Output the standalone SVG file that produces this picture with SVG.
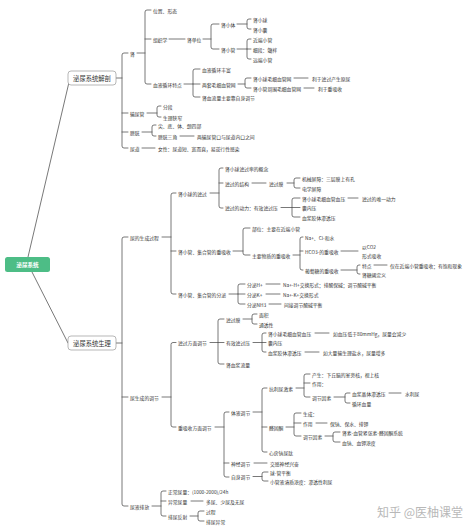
<svg xmlns="http://www.w3.org/2000/svg" width="474" height="530" viewBox="0 0 474 530">
<style>
.t{font-family:"Noto Sans CJK SC","Noto Sans",sans-serif;font-size:4.8px;fill:#333;dominant-baseline:central}
.c{fill:none;stroke:#555;stroke-width:0.8;stroke-linecap:round}
.main{font-family:"Noto Sans CJK SC","Noto Sans",sans-serif;font-size:6.3px;fill:#333;text-anchor:middle;dominant-baseline:central}
.box{fill:#fff;stroke:#999;stroke-width:0.7}
</style>
<rect width="474" height="530" fill="#fff"/>
<g id="connectors" class="c">
<path d="M28,257L70,78M32,272L68,343"/>
<path d="M116,78H122M128,53H124Q122,53 122,55V146Q122,148 124,148H128M122,113H128M122,132H128"/>
<path d="M137,53H145M151,10H147Q145,10 145,12V82Q145,84 147,84H151M145,39H151"/>
<path d="M169,39H185"/>
<path d="M203,39H211M219,24H213Q211,24 211,26V47Q211,49 213,49H219"/>
<path d="M237,24H247M251,19H249Q247,19 247,21V27Q247,29 249,29H251"/>
<path d="M237,49H247M251,39H249Q247,39 247,41V57Q247,59 249,59H251M247,49H251"/>
<path d="M184,84H193M200,69H195Q193,69 193,71V95Q193,97 195,97H200M193,84H200"/>
<path d="M238,84H245M251,78H247Q245,78 245,80V86Q245,88 247,88H251"/>
<path d="M294,78H308M304,88H314"/>
<path d="M147,113H157M161,106H159Q157,106 157,108V115Q157,117 159,117H161"/>
<path d="M142,132H152M156,125H154Q152,125 152,127V134Q152,136 154,136H156"/>
<path d="M180,136H194M142,148H155"/>
<path d="M116,343H122M128,237H124Q122,237 122,239V504Q122,506 124,506H128M122,397H128"/>
<path d="M162,237H171M176,193H173Q171,193 171,195V292Q171,294 173,294H176M171,251H176"/>
<path d="M210,193H219M223,168H221Q219,168 219,170V206Q219,208 221,208H223M219,183H223"/>
<path d="M252,183H266"/>
<path d="M287,183H294M300,178H296Q294,178 294,180V186Q294,188 296,188H300"/>
<path d="M281,207.5H292M300,198H294Q292,198 292,200V215Q292,217 294,217H300M292,207.5H300"/>
<path d="M348,198H358"/>
<path d="M233,251H243M250,228H245Q243,228 243,230V253Q243,255 245,255H250"/>
<path d="M293,255H300M303,237H302Q300,237 300,239V268Q300,270 302,270H303M300,251H303"/>
<path d="M341,251H358"/>
<path d="M341,270H357M360,265H359Q357,265 357,267V272Q357,274 359,274H360"/>
<path d="M374,265H387"/>
<path d="M229,294H238M245,284H240Q238,284 238,286V302Q238,304 240,304H245M238,294H245"/>
<path d="M266,284H280M266,294H280M269,304H281"/>
<path d="M162,397H171M176,342.5H173Q171,342.5 171,344.5V425Q171,427 173,427H176"/>
<path d="M210,342.5H218M224,319H220Q218,319 218,321V362Q218,364 220,364H224M218,342.5H224"/>
<path d="M243,319H252M257,314H254Q252,314 252,316V322Q252,324 254,324H257"/>
<path d="M253,342.5H262M266,333H264Q262,333 262,335V350Q262,352 264,352H266M262,342.5H266"/>
<path d="M315,333H329M305,352H319"/>
<path d="M215,427H224M229,412H226Q224,412 224,414V475Q224,477 226,477H229M224,463H229"/>
<path d="M253,412H262M267,388H264Q262,388 262,390V450Q262,452 264,452H267M262,427H267"/>
<path d="M296,388H304M310,374H306Q304,374 304,376V395Q304,397 306,397H310M304,383H310"/>
<path d="M334,397H345M350,393H347Q345,393 345,395V401Q345,403 347,403H350"/>
<path d="M389,393H401"/>
<path d="M286,427H294M301,413H296Q294,413 294,415V434Q294,436 296,436H301M294,423H301"/>
<path d="M316,423H327"/>
<path d="M325,436H333M340,432H335Q333,432 333,434V440Q333,442 335,442H340"/>
<path d="M254,463H267"/>
<path d="M253,476.5H262M268,472H264Q262,472 262,474V479Q262,481 264,481H268"/>
<path d="M152,506H161M166,491H163Q161,491 161,493V514Q161,516 163,516H166M161,501H166"/>
<path d="M191,501H203"/>
<path d="M190,516H198M204,511H200Q198,511 198,513V519Q198,521 200,521H204"/>
</g>
<g id="root"><rect x="5" y="257" width="45" height="15" rx="2.5" fill="#4dbd86"/><text x="27.5" y="264.5" class="main" style="fill:#fff;font-weight:bold;font-size:5.6px">泌尿系统</text></g>
<g id="anatomy"><rect x="68" y="71" width="48" height="14" rx="3" class="box"/><text x="92" y="78" class="main">泌尿系统解剖</text></g>
<g id="physiology"><rect x="68" y="336" width="48" height="14" rx="3" class="box"/><text x="92" y="343" class="main">泌尿系统生理</text></g>
<g id="n-shen"><text x="130" y="53" class="t">肾</text></g>
<g id="n-weizhi"><text x="153" y="10" class="t">位置、形态</text></g>
<g id="n-zuzhi"><text x="153" y="39" class="t">组织学</text></g>
<g id="n-shendanwei"><text x="187" y="39" class="t">肾单位</text></g>
<g id="n-shenxiaoti"><text x="221" y="24" class="t">肾小体</text></g>
<g id="n-shenxiaoqiu"><text x="253" y="19" class="t">肾小球</text></g>
<g id="n-shenxiaonang"><text x="253" y="29" class="t">肾小囊</text></g>
<g id="n-shenxiaoguan"><text x="221" y="49" class="t">肾小管</text></g>
<g id="n-jinduan"><text x="253" y="39" class="t">近端小管</text></g>
<g id="n-xiduan"><text x="253" y="49" class="t">细段：髓袢</text></g>
<g id="n-yuanduan"><text x="253" y="59" class="t">远端小管</text></g>
<g id="n-xueye"><text x="153" y="84" class="t">血液循环特点</text></g>
<g id="n-fengfu"><text x="202" y="69" class="t">血液循环丰富</text></g>
<g id="n-liangtao"><text x="202" y="84" class="t">两套毛细血管网</text></g>
<g id="n-qiuwang"><text x="253" y="78" class="t">肾小球毛细血管网</text></g>
<g id="n-lvguo"><text x="312" y="78" class="t">利于滤过产生原尿</text></g>
<g id="n-guanwang"><text x="253" y="88" class="t">肾小管周围毛细血管网</text></g>
<g id="n-chongxi"><text x="318" y="88" class="t">利于重吸收</text></g>
<g id="n-xueliuliang"><text x="202" y="97" class="t">肾血流量主要靠自身调节</text></g>
<g id="n-shuniaoguan"><text x="130" y="113" class="t">输尿管</text></g>
<g id="n-fenduan"><text x="163" y="106" class="t">分段</text></g>
<g id="n-xiazhai"><text x="163" y="117" class="t">生理狭窄</text></g>
<g id="n-pangguang"><text x="130" y="132" class="t">膀胱</text></g>
<g id="n-sibu"><text x="158" y="125" class="t">尖、底、体、颈四部</text></g>
<g id="n-sanjiao"><text x="158" y="136" class="t">膀胱三角</text></g>
<g id="n-sanjiao2"><text x="197" y="136" class="t">两输尿管口与尿道内口之间</text></g>
<g id="n-niaodao"><text x="130" y="148" class="t">尿道</text></g>
<g id="n-nvxing"><text x="158" y="148" class="t">女性：尿道短、宽而直，易逆行性感染</text></g>
<g id="n-shengcheng"><text x="130" y="237" class="t">尿的生成过程</text></g>
<g id="n-qiulvguo"><text x="178" y="193" class="t">肾小球的滤过</text></g>
<g id="n-lvguolv"><text x="225" y="168" class="t">肾小球滤过率的概念</text></g>
<g id="n-jiegou"><text x="225" y="183" class="t">滤过的结构</text></g>
<g id="n-lvguomo"><text x="269" y="183" class="t">滤过膜</text></g>
<g id="n-jixie"><text x="302" y="178" class="t">机械屏障：三层膜上有孔</text></g>
<g id="n-dianxue"><text x="302" y="188" class="t">电学屏障</text></g>
<g id="n-dongli"><text x="225" y="207.5" class="t">滤过的动力：有效滤过压</text></g>
<g id="n-xueya"><text x="302" y="198" class="t">肾小球毛细血管血压</text></g>
<g id="n-weiyi"><text x="362" y="198" class="t">滤过的唯一动力</text></g>
<g id="n-nangneiya"><text x="302" y="207.5" class="t">囊内压</text></g>
<g id="n-jiaoti"><text x="302" y="217" class="t">血浆胶体渗透压</text></g>
<g id="n-chongxishou"><text x="178" y="251" class="t">肾小管、集合管的重吸收</text></g>
<g id="n-buwei"><text x="252" y="228" class="t">部位：主要在近端小管</text></g>
<g id="n-wuzhi"><text x="252" y="255" class="t">主要物质的重吸收</text></g>
<g id="n-na"><text x="305" y="237" class="t">Na+、Cl-和水</text></g>
<g id="n-hco3"><text x="305" y="251" class="t">HCO3-的重吸收</text></g>
<g id="n-co2"><text x="362" y="246" class="t">以CO2</text><text x="362" y="255" class="t">形式吸收</text></g>
<g id="n-putaotang"><text x="305" y="270" class="t">葡萄糖的重吸收</text></g>
<g id="n-tedian"><text x="362" y="265" class="t">特点</text></g>
<g id="n-baohe"><text x="390" y="265" class="t">仅在近端小管重吸收；有饱和现象</text></g>
<g id="n-tangyu"><text x="362" y="274" class="t">肾糖阈定义</text></g>
<g id="n-fenmi"><text x="178" y="294" class="t">肾小管、集合管的分泌</text></g>
<g id="n-h"><text x="247" y="284" class="t">分泌H+</text></g>
<g id="n-h2"><text x="283" y="284" class="t">Na+-H+交换形式；排酸保碱；调节酸碱平衡</text></g>
<g id="n-k"><text x="247" y="294" class="t">分泌K+</text></g>
<g id="n-k2"><text x="283" y="294" class="t">Na+-K+交换形式</text></g>
<g id="n-nh3"><text x="247" y="304" class="t">分泌NH3</text></g>
<g id="n-nh32"><text x="284" y="304" class="t">间接调节酸碱平衡</text></g>
<g id="n-tiaojie"><text x="130" y="397" class="t">尿生成的调节</text></g>
<g id="n-lvfangmian"><text x="178" y="342.5" class="t">滤过方面调节</text></g>
<g id="n-lvguomo2"><text x="226" y="319" class="t">滤过膜</text></g>
<g id="n-mianji"><text x="259" y="314" class="t">面积</text></g>
<g id="n-toutou"><text x="259" y="324" class="t">通透性</text></g>
<g id="n-youxiao"><text x="226" y="342.5" class="t">有效滤过压</text></g>
<g id="n-xueya2"><text x="268" y="333" class="t">肾小球毛细血管血压</text></g>
<g id="n-80"><text x="333" y="333" class="t">如血压低于80mmHg，尿量会减少</text></g>
<g id="n-nangneiya2"><text x="268" y="342.5" class="t">囊内压</text></g>
<g id="n-jiaoti2"><text x="268" y="352" class="t">血浆胶体渗透压</text></g>
<g id="n-yanshui"><text x="323" y="352" class="t">如大量输生理盐水，尿量增多</text></g>
<g id="n-xuejiang"><text x="226" y="364" class="t">肾血浆流量</text></g>
<g id="n-chongfangmian"><text x="178" y="427" class="t">重吸收方面调节</text></g>
<g id="n-tiye"><text x="231" y="412" class="t">体液调节</text></g>
<g id="n-adh"><text x="269" y="388" class="t">抗利尿激素</text></g>
<g id="n-chansheng"><text x="312" y="374" class="t">产生：下丘脑的室旁核，视上核</text></g>
<g id="n-zuoyong"><text x="312" y="383" class="t">作用：</text></g>
<g id="n-yinsu"><text x="312" y="397" class="t">调节因素</text></g>
<g id="n-jingti"><text x="352" y="393" class="t">血浆晶体渗透压</text></g>
<g id="n-shuiliniao"><text x="405" y="393" class="t">水利尿</text></g>
<g id="n-xunhuan"><text x="352" y="403" class="t">循环血量</text></g>
<g id="n-quangutong"><text x="269" y="427" class="t">醛固酮</text></g>
<g id="n-shengcheng2"><text x="303" y="413" class="t">生成：</text></g>
<g id="n-zuoyong2"><text x="303" y="423" class="t">作用</text></g>
<g id="n-baona"><text x="330" y="423" class="t">保钠、保水、排钾</text></g>
<g id="n-yinsu2"><text x="303" y="436" class="t">调节因素</text></g>
<g id="n-raas"><text x="342" y="432" class="t">肾素-血管紧张素-醛固酮系统</text></g>
<g id="n-xuena"><text x="342" y="442" class="t">血钠、血钾浓度</text></g>
<g id="n-anp"><text x="269" y="452" class="t">心房钠尿肽</text></g>
<g id="n-shenjing"><text x="231" y="463" class="t">神经调节</text></g>
<g id="n-jiaogan"><text x="270" y="463" class="t">交感神经兴奋</text></g>
<g id="n-zishen"><text x="231" y="476.5" class="t">自身调节</text></g>
<g id="n-qiuguan"><text x="270" y="472" class="t">球-管平衡</text></g>
<g id="n-shentou"><text x="270" y="481" class="t">小管液溶质浓度：渗透性利尿</text></g>
<g id="n-paifang"><text x="130" y="506" class="t">尿液排放</text></g>
<g id="n-zhengchang"><text x="168" y="491" class="t">正常尿量：(1000-2000)/24h</text></g>
<g id="n-yichang"><text x="168" y="501" class="t">异常尿量</text></g>
<g id="n-duoniao"><text x="206" y="501" class="t">多尿、少尿及无尿</text></g>
<g id="n-fanshe"><text x="168" y="516" class="t">排尿反射</text></g>
<g id="n-guocheng"><text x="206" y="511" class="t">过程</text></g>
<g id="n-paiyichang"><text x="206" y="521" class="t">排尿异常</text></g>
<g id="watermark"><text x="377" y="517" style="font-family:'Noto Sans CJK SC',sans-serif;font-size:12px;fill:#b8b8b8">知乎 @医柚课堂</text></g>
</svg>
